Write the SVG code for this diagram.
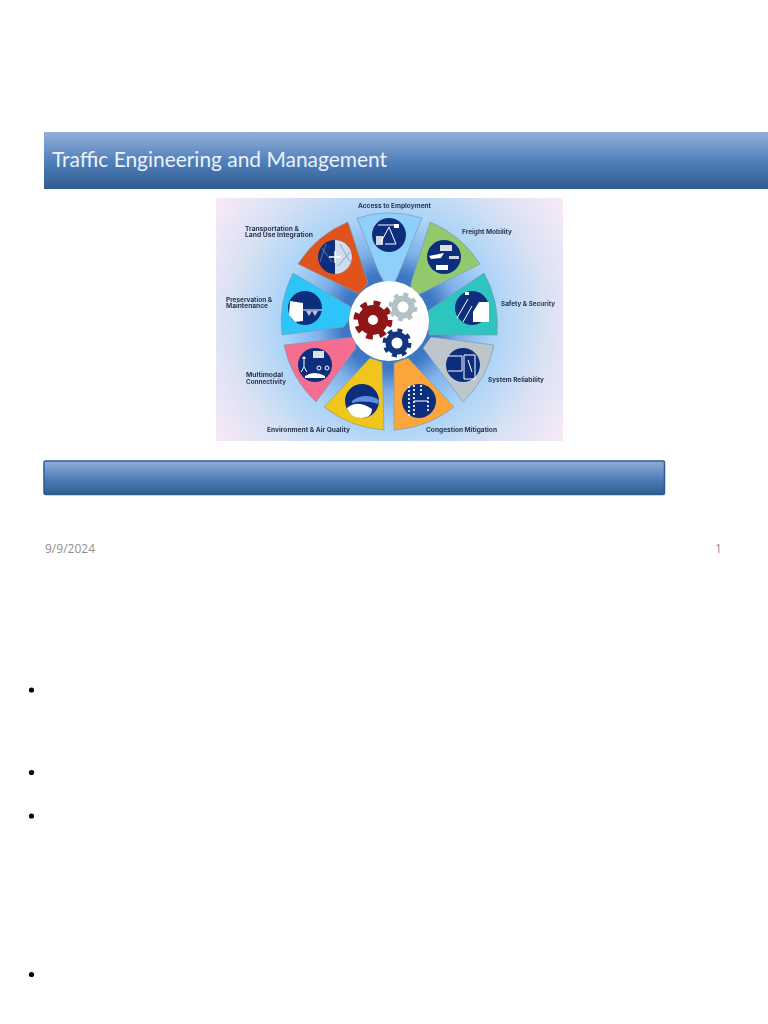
<svg xmlns="http://www.w3.org/2000/svg" width="768" height="1024" viewBox="0 0 768 1024">
<style>
.seg{stroke:#7f9bb5;stroke-width:.7}
.ic{fill:#0f2f7c}
.w{fill:#fff}
.wl{fill:none;stroke:#fff;stroke-width:1}
.lab{font-family:"Inter","Liberation Sans",sans-serif;font-weight:700;font-size:6.4px;fill:#2b3450;dominant-baseline:central}
.foot{font-family:"Open Sans","Liberation Sans",sans-serif;font-size:12px;fill:#8f8f8f}
</style>
<defs>
<linearGradient id="band" x1="0" y1="0" x2="0" y2="1">
<stop offset="0" stop-color="#93afd8"/><stop offset=".55" stop-color="#4d7db8"/><stop offset="1" stop-color="#325c8f"/>
</linearGradient>
<radialGradient id="bg" gradientUnits="userSpaceOnUse" cx="389" cy="321" r="210">
<stop offset="0" stop-color="#2f69b8"/><stop offset=".23" stop-color="#3f78c4"/><stop offset=".34" stop-color="#7fb2ea"/><stop offset=".5" stop-color="#abd3f8"/><stop offset=".75" stop-color="#d8e2f3"/><stop offset="1" stop-color="#f9e9f8"/>
</radialGradient>
<filter id="soft" x="-5%" y="-5%" width="110%" height="110%"><feGaussianBlur stdDeviation=".45"/></filter>
<filter id="softer" x="-5%" y="-20%" width="110%" height="140%"><feGaussianBlur stdDeviation=".28"/></filter>
</defs>
<rect width="768" height="1024" fill="#fff"/>
<g id="title-band">
<rect x="44" y="132" width="724" height="57" fill="url(#band)"/>
<text x="52" y="167" font-family="Lato,'Open Sans',sans-serif" font-size="21" fill="#edf2f9" textLength="335" lengthAdjust="spacingAndGlyphs">Traffic Engineering and Management</text>
</g>
<g id="wheel" filter="url(#soft)">
<rect x="216" y="198" width="347" height="243" fill="url(#bg)"/>
<g id="access-to-employment"><path class="seg" fill="#8ed0fa" d="M357 218A108 108 0 0 1 422 218L399 273L395 282H384L379 273Z"/><circle class="ic" cx="389" cy="235" r="17"/><path class="wl" stroke-width=".8" d="M378 225H398M389 227L381 242M389 227L396 244H385"/><rect class="w" x="376" y="236" width="7" height="9" opacity=".8"/><rect class="w" x="394" y="224" width="5" height="4"/></g>
<g id="freight-mobility"><path class="seg" fill="#92c86e" d="M430 222A108 108 0 0 1 480 264L420 294H411V283Z"/><circle class="ic" cx="444" cy="257" r="17"/><rect class="w" x="440" y="245" width="12" height="6" opacity=".85"/><path class="w" d="M429 256L444 253L441 258L431 259Z"/><rect class="w" x="449" y="256" width="10" height="3" opacity=".8"/><rect class="w" x="436" y="265" width="12" height="5"/></g>
<g id="safety-security"><path class="seg" fill="#2fc4c0" d="M484 273A108 108 0 0 1 497 335H429L428 320L429 310Z"/><circle class="ic" cx="472" cy="308" r="17"/><path class="w" d="M479 302H489V322H473V312Z"/><path class="wl" d="M457 318L468 299M463 322L472 306"/><rect class="w" x="465" y="292" width="4" height="3"/></g>
<g id="system-reliability"><path class="seg" fill="#bcc6cc" d="M423 348L431 337L494 345A108 108 0 0 1 463 402Z"/><circle class="ic" cx="463" cy="365" r="17"/><path class="wl" d="M448 356H462V371H448M464 355H475V379H464Z"/><path class="wl" d="M468 360L472 372"/></g>
<g id="congestion-mitigation"><path class="seg" fill="#fba63b" d="M394 430A108 108 0 0 0 454 407L408 358L394 363Z"/><circle class="ic" cx="419" cy="401" r="17"/><path fill="none" stroke="#cfe2f3" stroke-width="2" stroke-dasharray="2 2" d="M409 386V416M414 385V417M421 385V396M428 397V412"/><path class="wl" d="M414 401H428"/></g>
<g id="environment-air-quality"><path class="seg" fill="#f0c61a" d="M384 430A108 108 0 0 1 324 407L370 358L382 362Z"/><circle class="ic" cx="362" cy="401" r="17"/><path class="w" d="M347 408C356 400 366 405 372 409C372 414 369 418 361 418C354 418 349 414 347 408Z"/><path fill="#5f8fe0" d="M352 401C360 394 372 395 379 400L378 404C368 401 360 401 352 403Z"/></g>
<g id="multimodal-connectivity"><path class="seg" fill="#f56d90" d="M284 345L354 337L356 348L316 402A108 108 0 0 1 284 345Z"/><circle class="ic" cx="315" cy="365" r="17"/><circle class="w" cx="304" cy="358" r="1.500"/><path class="wl" d="M304 360V367L301 372M304 367L307 372"/><rect class="w" x="313" y="351" width="11" height="7" opacity=".85"/><path class="w" d="M305 376Q314 370 325 376V378H305Z"/><circle class="wl" cx="319" cy="368" r="2"/><circle class="wl" cx="327" cy="368" r="2"/></g>
<g id="preservation-maintenance"><path class="seg" fill="#2ec4f7" d="M293 273L351 307L349 320L344 327L282 335A108 108 0 0 1 293 273Z"/><circle class="ic" cx="305" cy="308" r="17"/><path class="w" d="M290 301L303 303V321L295 322L289 315Z"/><path class="wl" d="M303 310H322"/><path fill="#fff" opacity=".7" d="M306 311L309 316L312 311L315 316L318 311Z"/></g>
<g id="transportation-land-use"><path class="seg" fill="#e0531c" d="M348 222L368 283L359 294L298 264A108 108 0 0 1 348 222Z"/><circle class="ic" cx="335" cy="257" r="17"/><path fill="#cfdcec" d="M335 240A17 17 0 0 1 335 274Z"/><path fill="none" stroke="#6f8fbf" stroke-width=".7" d="M322 248L332 262M326 244L320 262M340 244L350 262M338 266L350 252"/><path fill="none" stroke="#fff" stroke-width="1.400" d="M335 251V263M329 257H341"/></g>
<g id="hub"><circle cx="389" cy="321" r="40" fill="#fff"/>
<g id="gear-red" fill="none" stroke="#8f1313"><circle cx="373" cy="320" r="10" stroke-width="10"/><circle cx="373" cy="320" r="16.500" stroke-width="6" stroke-dasharray="6.5 6.46"/></g>
<g id="gear-gray" fill="none" stroke="#b4c0c6"><circle cx="403" cy="307" r="8.500" stroke-width="6"/><circle cx="403" cy="307" r="12.500" stroke-width="4" stroke-dasharray="4.900 4.920"/></g>
<g id="gear-blue" fill="none" stroke="#12367f"><circle cx="397" cy="343" r="8.500" stroke-width="6"/><circle cx="397" cy="343" r="12.500" stroke-width="4" stroke-dasharray="4.900 4.920"/></g>
</g>
</g>
<g id="labels" filter="url(#softer)">
<text class="lab" x="358" y="206" textLength="73" lengthAdjust="spacingAndGlyphs">Access to Employment</text>
<text class="lab" x="245" y="228.500" textLength="54" lengthAdjust="spacingAndGlyphs">Transportation &amp;</text>
<text class="lab" x="245" y="235" textLength="68" lengthAdjust="spacingAndGlyphs">Land Use Integration</text>
<text class="lab" x="462" y="232" textLength="50" lengthAdjust="spacingAndGlyphs">Freight Mobility</text>
<text class="lab" x="226" y="300" textLength="46" lengthAdjust="spacingAndGlyphs">Preservation &amp;</text>
<text class="lab" x="226" y="306" textLength="42" lengthAdjust="spacingAndGlyphs">Maintenance</text>
<text class="lab" x="501" y="304" textLength="54" lengthAdjust="spacingAndGlyphs">Safety &amp; Security</text>
<text class="lab" x="246" y="375" textLength="37" lengthAdjust="spacingAndGlyphs">Multimodal</text>
<text class="lab" x="246" y="381.500" textLength="40" lengthAdjust="spacingAndGlyphs">Connectivity</text>
<text class="lab" x="488" y="380" textLength="56" lengthAdjust="spacingAndGlyphs">System Reliability</text>
<text class="lab" x="267" y="429.500" textLength="83" lengthAdjust="spacingAndGlyphs">Environment &amp; Air Quality</text>
<text class="lab" x="426" y="430" textLength="71" lengthAdjust="spacingAndGlyphs">Congestion Mitigation</text>
</g>
<g id="lower-band"><rect x="44" y="461" width="620.500" height="33.500" rx="1.500" fill="url(#band)" stroke="#2f5a8f" stroke-width="1.500"/></g>
<g id="footer">
<text class="foot" x="45" y="553" textLength="50" lengthAdjust="spacingAndGlyphs">9/9/2024</text>
<text class="foot" x="715" y="553">1</text>
</g>
<g id="bullets" fill="#000">
<circle cx="31.500" cy="690" r="2.600"/>
<circle cx="31.500" cy="772.500" r="2.600"/>
<circle cx="31.500" cy="816" r="2.600"/>
<circle cx="31.500" cy="974.500" r="2.600"/>
</g>
</svg>
